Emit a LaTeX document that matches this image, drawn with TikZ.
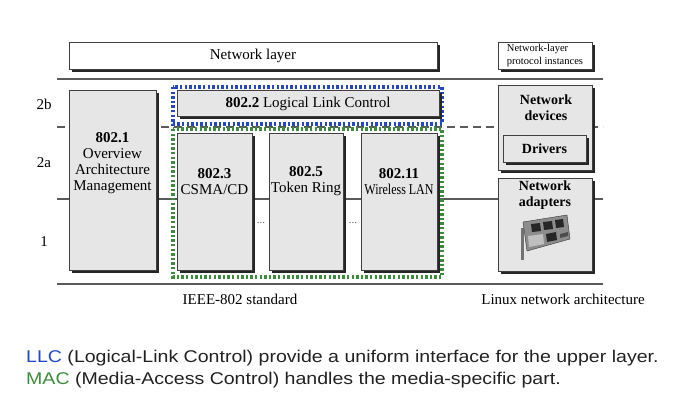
\documentclass[tikz,border=0pt]{standalone}
\usepackage{fontspec}
\setmainfont{Liberation Serif}
\setsansfont{Liberation Sans}
\usetikzlibrary{shadows}
\definecolor{llcblue}{HTML}{2447C4}
\definecolor{macgreen}{HTML}{3C8C3C}
\definecolor{boxgray}{HTML}{E6E6E6}
\definecolor{rulegray}{HTML}{5A5A5A}
\definecolor{textgray}{HTML}{222222}
\tikzset{%
    layerbox/.style={%
        draw=black!75, fill=boxgray, line width=0.9pt, inner sep=0pt,
        drop shadow={shadow xshift=3pt, shadow yshift=-3pt, fill=black!85, opacity=1}
    },
    whitebox/.style={%
        layerbox, fill=white
    },
    rule/.style={%
        draw=rulegray, line width=1.4pt
    },
    dotframe/.style={%
        line width=3.2pt, dash pattern=on 2.4pt off 2.2pt
    }
}

\begin{document}
\begin{tikzpicture}[x=1pt, y=-1pt, font=\fontsize{15}{16}\selectfont]
    \useasboundingbox (0,0) rectangle (678,409);

    \coordinate (topL) at (57,79);
    \coordinate (topR) at (603,79);
    \coordinate (midL) at (57,127);
    \coordinate (midR) at (603,127);
    \coordinate (lowL) at (57,199);
    \coordinate (lowR) at (603,199);
    \coordinate (botL) at (57,284);
    \coordinate (botR) at (603,284);
    \draw[rule] (topL) -- (topR);
    \draw[rule, line width=1.2pt, dash pattern=on 8pt off 5pt] (midL) -- (midR);
    \draw[rule] (lowL) -- (lowR);
    \draw[rule] (botL) -- (botR);

    \node (row2b) at (44,104) {2b};
    \node (row2a) at (44,163) {2a};
    \node (row1) at (44,242) {1};

    \node[whitebox, minimum width=368pt, minimum height=27pt] (netlayer) at (253,55.5) {Network layer};
    \node[whitebox, minimum width=94pt, minimum height=27pt, align=left,
        font=\fontsize{10.5}{12.5}\selectfont] (instances) at (545,55.5) {Network-layer\\protocol instances};

    \node[layerbox, minimum width=87pt, minimum height=180pt] (std8021) at (112.5,180) {};
    \node[align=center] (std8021txt) at (112.5,163) {\textbf{802.1}\\Overview\\Architecture\\Management};

    \draw[dotframe, draw=llcblue] (173,87) rectangle (442,124);
    \draw[dotframe, draw=macgreen] (173,129) rectangle (442,277);

    \node[layerbox, minimum width=262pt, minimum height=26pt] (llc) at (308,103.5) {\textbf{802.2} Logical Link Control};

    \node[layerbox, minimum width=75pt, minimum height=137pt] (csma) at (214.5,201.5) {};
    \node[align=center] (csmatxt) at (214.5,181.5) {\textbf{802.3}\\CSMA/CD};
    \node[layerbox, minimum width=74pt, minimum height=137pt] (token) at (306,201.5) {};
    \node[align=center] (tokentxt) at (306,181.5) {\textbf{802.5}\\Token Ring};
    \node[layerbox, minimum width=76pt, minimum height=137pt] (wlan) at (399,201.5) {};
    \node[align=center] (wlantxt) at (399,181.5) {\textbf{802.11}\\\scalebox{0.8}[1]{Wireless LAN}};
    \node[font=\fontsize{11}{11}\selectfont, text=black!65] (dotsA) at (261,223) {...};
    \node[font=\fontsize{11}{11}\selectfont, text=black!65] (dotsB) at (353,223) {...};

    \node[layerbox, minimum width=94pt, minimum height=85pt] (devices) at (545,127.5) {};
    \node[align=center, font=\fontsize{14}{16}\selectfont\bfseries] (devicestxt) at (546,108) {Network\\devices};
    \node[layerbox, minimum width=83pt, minimum height=27pt,
        font=\fontsize{14}{16}\selectfont\bfseries] (drivers) at (544.5,148.5) {Drivers};
    \node[layerbox, minimum width=94pt, minimum height=93pt] (adapters) at (545,224.5) {};
    \node[align=center, font=\fontsize{14}{16}\selectfont\bfseries] (adapterstxt) at (545,195) {Network\\adapters};

    % network card
    \fill[black!55] (521,228) rectangle (524,260);
    \filldraw[draw=black!80, fill=black!45] (523,222) -- (567,215) -- (570,239) -- (527,251) -- cycle;
    \fill[black!85] (531,224) -- (540,223) -- (541,231) -- (532,232) -- cycle;
    \fill[black!85] (543,222) -- (552,221) -- (553,229) -- (544,230) -- cycle;
    \fill[black!85] (555,220) -- (563,219) -- (564,227) -- (556,228) -- cycle;
    \fill[black!85] (546,234) -- (556,232) -- (557,240) -- (547,242) -- cycle;
    \fill[black!25] (528,236) -- (543,234) -- (544,244) -- (529,247) -- cycle;
    \fill[black!70] (560,234) -- (568,232) -- (568,236) -- (560,238) -- cycle;

    \node (ieeecap) at (240,299) {IEEE-802 standard};
    \node (linuxcap) at (563,299) {Linux network architecture};

    \node[anchor=base west, inner sep=0pt, text=textgray, font=\sffamily\fontsize{17}{20}\selectfont]
        (llcnote) at (26,362) {\scalebox{1.15}[1]{\textcolor{llcblue}{LLC} (Logical-Link Control) provide a uniform interface for the upper layer.}};
    \node[anchor=base west, inner sep=0pt, text=textgray, font=\sffamily\fontsize{17}{20}\selectfont]
        (macnote) at (26,384) {\scalebox{1.15}[1]{\textcolor{macgreen}{MAC} (Media-Access Control) handles the media-specific part.}};
\end{tikzpicture}
\end{document}
